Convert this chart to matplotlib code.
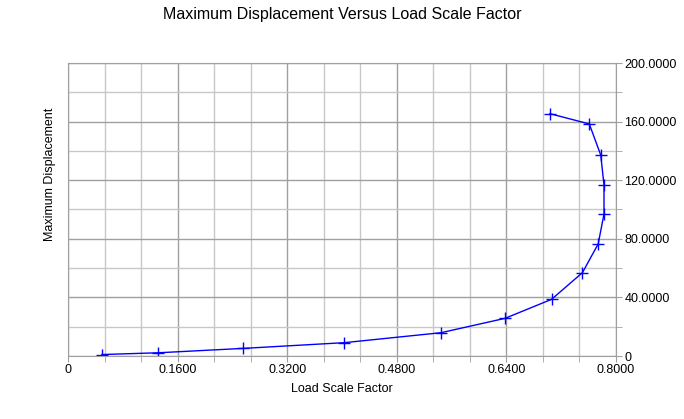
import matplotlib
matplotlib.use("Agg")
import matplotlib.pyplot as plt
import numpy as np

# data
load_factor = [0.0496, 0.1318, 0.2560, 0.4034, 0.5445, 0.6380, 0.7060,
               0.7510, 0.7740, 0.7825, 0.7825, 0.7777, 0.7610, 0.7036]
max_disp = [1.0, 2.2, 5.2, 9.1, 15.9, 25.7, 38.7,
            56.9, 76.5, 97.0, 116.7, 137.2, 158.4, 165.4]

x_major = [0, 0.16, 0.32, 0.48, 0.64, 0.80]
x_labels = ["0", "0.1600", "0.3200", "0.4800", "0.6400", "0.8000"]
y_major = [0, 40, 80, 120, 160, 200]
y_labels = ["0", "40.0000", "80.0000", "120.0000", "160.0000", "200.0000"]

plt.rcParams['font.family'] = ['Liberation Sans', 'DejaVu Sans']

fig = plt.figure(figsize=(6.84, 4.19), dpi=100)
ax = fig.add_axes([68 / 684, (419 - 356) / 419, 548 / 684, 293 / 419])

ax.plot(load_factor, max_disp, color='#0000ff', lw=1, marker='+',
        markersize=8, markeredgewidth=1)

ax.set_xlim(0, 0.8)
ax.set_ylim(0, 200)

ax.set_xticks(x_major)
ax.set_xticklabels(x_labels)
ax.set_xticks(np.arange(0, 0.8001, 0.16 / 3), minor=True)
ax.set_yticks(y_major)
ax.set_yticklabels(y_labels)
ax.set_yticks(np.arange(0, 201, 20), minor=True)

ax.yaxis.tick_right()
ax.tick_params(which='both', direction='out', length=4, color='#a0a0a0',
               labelsize=9, pad=2)
ax.tick_params(axis='y', which='both', left=False)

ax.grid(which='minor', color='#c8c8c8', lw=1)
ax.grid(which='major', color='#a0a0a0', lw=1)
ax.set_axisbelow(True)
for s in ax.spines.values():
    s.set_color('#a0a0a0')

ax.set_xlabel("Load Scale Factor", fontsize=9, labelpad=5)
fig.text(50 / 684, 1 - 174 / 419, "Maximum Displacement", rotation=90,
         fontsize=9, ha='center', va='center')
fig.suptitle("Maximum Displacement Versus Load Scale Factor", fontsize=11.5,
             y=1 - 14 / 419, va='center')

fig.savefig("out.png", dpi=100)
